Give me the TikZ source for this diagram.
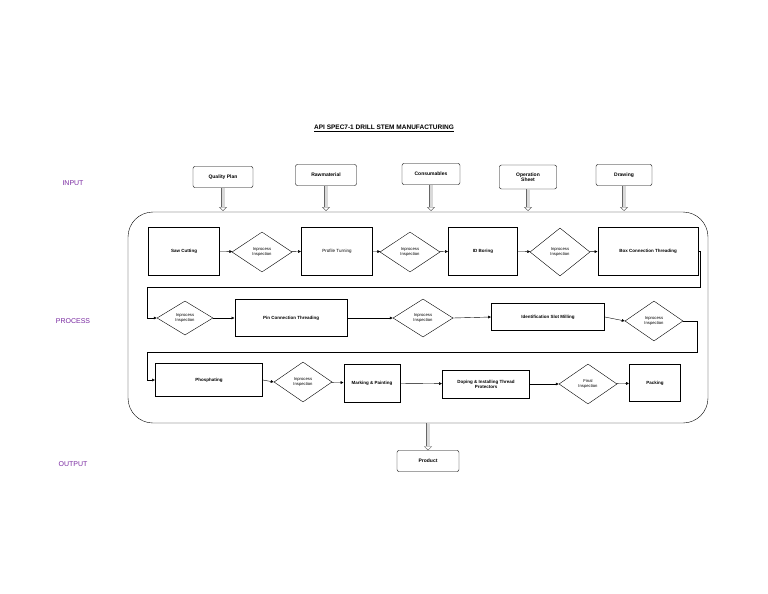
\documentclass[tikz,border=0pt]{standalone}
\usepackage{fontspec}
\setmainfont{Liberation Sans}
\usetikzlibrary{shapes.geometric,arrows.meta}
\definecolor{stagecol}{RGB}{120,40,160}
\begin{document}
\begin{tikzpicture}[x=1pt,y=-1pt, every node/.style={font=\fontsize{4.5}{5}\selectfont\bfseries, align=center},
task/.style={draw, thick, rectangle, inner sep=1pt},
check/.style={draw, diamond, aspect=1.4, inner sep=0pt, font=\fontsize{4.2}{4.6}\selectfont},
feed/.style={draw, rounded corners=2pt, inner sep=1pt, font=\fontsize{5}{5.5}\selectfont\bfseries},
flow/.style={-{Latex[length=3pt,width=3pt]}},
supply/.style={draw=gray!80!black, double=gray!30, double distance=3pt, -{Triangle[open,length=4pt,width=8pt]}},
stage/.style={text=stagecol, font=\fontsize{7}{8}\selectfont}]
\useasboundingbox (0,0) rectangle (768,594);

\node[font=\fontsize{6.5}{7}\selectfont\bfseries] (title) at (384,128) {\underline{API SPEC7-1 DRILL STEM MANUFACTURING}};
\node[stage] (input) at (73,183) {INPUT};
\node[stage] (process) at (73,321) {PROCESS};
\node[stage] (output) at (73,464) {OUTPUT};

% inputs
\node[feed, minimum width=60, minimum height=21] (quality) at (223,177) {Quality Plan};
\node[feed, minimum width=61, minimum height=21] (raw) at (326,175) {Rawmaterial};
\node[feed, minimum width=58, minimum height=21] (consum) at (431,174) {Consumables};
\node[feed, minimum width=57, minimum height=24] (opsheet) at (528,177) {Operation\\Sheet};
\node[feed, minimum width=56, minimum height=21] (drawing) at (624,175) {Drawing};

\draw[rounded corners=25] (128,212) rectangle (708,423);
\coordinate (top) at (0,211);
\foreach \n in {quality,raw,consum,opsheet,drawing}
  \draw[supply] (\n.south) -- (\n.south |- top);

% row one
\node[task, minimum width=71, minimum height=48] (saw) at (184,251) {Saw Cutting};
\node[check, minimum width=60, minimum height=40] (ins1) at (262,252) {Inprocess\\Inspection};
\node[task, minimum width=71, minimum height=48] (profile) at (337,251) {\mdseries Profile Turning};
\node[check, minimum width=60, minimum height=40] (ins2) at (410,252) {Inprocess\\Inspection};
\node[task, minimum width=69, minimum height=48] (boring) at (483,251) {ID Boring};
\node[check, minimum width=60, minimum height=48] (ins3) at (560,252) {Inprocess\\Inspection};
\node[task, minimum width=100, minimum height=48] (box) at (648,251) {Box Connection Threading};

% row two
\node[check, minimum width=56, minimum height=34] (ins4) at (185,318) {Inprocess\\Inspection};
\node[task, minimum width=112, minimum height=37] (pin) at (291,318) {Pin Connection Threading};
\node[check, minimum width=60, minimum height=38] (ins5) at (423,318) {Inprocess\\Inspection};
\node[task, minimum width=113, minimum height=27] (slot) at (548,317) {Identification Slot Milling};
\node[check, minimum width=58, minimum height=40] (ins6) at (654,321) {Inprocess\\Inspection};

% row three
\node[task, minimum width=107, minimum height=33] (phos) at (209,380) {Phosphating};
\node[check, minimum width=58, minimum height=40] (ins7) at (303,382) {Inprocess\\Inspection};
\node[task, minimum width=56, minimum height=38] (marking) at (372,383) {Marking \& Painting};
\node[task, minimum width=87, minimum height=28] (doping) at (486,384) {Doping \& Installing Thread\\Protectors};
\node[check, minimum width=58, minimum height=40] (final) at (588,384) {Final\\Inspection};
\node[task, minimum width=51, minimum height=37] (packing) at (655,383) {Packing};

\node[feed, minimum width=62, minimum height=21] (product) at (428,461) {Product};
\coordinate (bottom) at (0,423);
\draw[supply] (product.north |- bottom) -- (product.north);

% flow
\draw[flow] (saw) -- (ins1);
\draw[flow] (ins1) -- (profile);
\draw[flow] (profile) -- (ins2);
\draw[flow] (ins2) -- (boring);
\draw[flow] (boring) -- (ins3);
\draw[flow] (ins3) -- (box);
\draw[flow] (box.east) -- ++(2,0) |- (147,287) |- (ins4.west);
\draw[flow] (ins4) -- (pin);
\draw[flow] (pin.east) -- (ins5.west);
\draw[flow] (ins5.east) -- (slot.west);
\draw[flow] (slot.east) -- (ins6.west);
\draw[flow] (ins6.east) -- (697,321) |- (147,352) |- (phos.west);
\draw[flow] (phos.east) -- (ins7.west);
\draw[flow] (ins7) -- (marking);
\draw[flow] (marking) -- (doping);
\draw[flow] (doping) -- (final);
\draw[flow] (final) -- (packing);
\end{tikzpicture}
\end{document}
